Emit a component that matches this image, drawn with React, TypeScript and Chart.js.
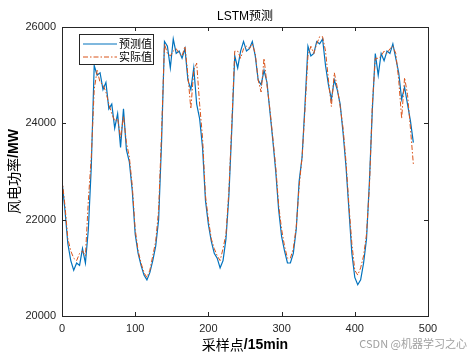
import React, { useEffect, useRef } from "react";
import { Chart, registerables } from "chart.js";
Chart.register(...registerables);

const sampleIdx = [
  0, 4, 8, 12, 16, 20, 24, 28, 32, 36, 40, 44, 48, 52, 56, 60, 64, 68, 72, 76,
  80, 84, 88, 92, 96, 100, 104, 108, 112, 116, 120, 124, 128, 132, 136, 140, 144, 148, 152, 156,
  160, 164, 168, 172, 176, 180, 184, 188, 192, 196, 200, 204, 208, 212, 216, 220, 224, 228, 232, 236,
  240, 244, 248, 252, 256, 260, 264, 268, 272, 276, 280, 284, 288, 292, 296, 300, 304, 308, 312, 316,
  320, 324, 328, 332, 336, 340, 344, 348, 352, 356, 360, 364, 368, 372, 376, 380, 384, 388, 392, 396,
  400, 404, 408, 412, 416, 420, 424, 428, 432, 436, 440, 444, 448, 452, 456, 460, 464, 468, 472, 476, 480,
];

const actual = [
  22850, 22300, 21600, 21350, 21200, 21150, 21300, 21350, 21250, 22400, 23300, 24700, 25100, 24850, 24800, 24650, 24400, 24200, 24050, 24100,
  23700, 24150, 23600, 23300, 22700, 21800, 21350, 21100, 20900, 20800, 20950, 21250, 21550, 22200, 23800, 25650, 25450, 25400, 25500, 25550,
  25450, 25400, 25600, 25000, 24300, 25100, 25250, 24400, 23700, 22500, 22000, 21600, 21400, 21250, 21150, 21400, 21700, 22600, 24000, 25500,
  25500, 25350, 25550, 25600, 25550, 25650, 25450, 24900, 24650, 25350, 24800, 24300, 23700, 23100, 22300, 21800, 21450, 21200, 21200, 21400,
  21850, 22700, 23300, 24300, 25400, 25600, 25450, 25650, 25800, 25800, 25500, 24900, 24350, 25050, 24750, 24350, 23900, 23200, 22300, 21500,
  20950, 20850, 21000, 21250, 21700, 22700, 24400, 25350, 25350, 25400, 25500, 25450, 25550, 25600, 25450, 24900, 24100, 24950, 24600, 23900, 23150,
];

const predicted = [
  22800, 22200, 21500, 21150, 20950, 21100, 21050, 21400, 21100, 21800, 23100, 25200, 25000, 25050, 24700, 24850, 24300, 24400, 23900, 24200,
  23500, 24300, 23450, 23200, 22600, 21700, 21300, 21050, 20850, 20750, 20900, 21150, 21450, 22000, 23600, 25700, 25600, 25150, 25750, 25450,
  25500, 25350, 25550, 24900, 24700, 25150, 24400, 24100, 23500, 22400, 21900, 21550, 21300, 21200, 21000, 21150, 21600, 22500, 23900, 25400,
  25150, 25500, 25700, 25500, 25550, 25700, 25400, 24900, 24800, 25100, 24850, 24250, 23650, 23000, 22200, 21650, 21350, 21100, 21100, 21300,
  21800, 22800, 23300, 24400, 25600, 25400, 25450, 25700, 25650, 25750, 25200, 24800, 24500, 24900, 24700, 24400, 23800, 23100, 22200, 21300,
  20800, 20650, 20750, 21100, 21600, 22800, 24300, 25450, 25000, 25450, 25300, 25500, 25450, 25650, 25350, 25050, 24500, 24750, 24400, 24050, 23600,
];

const xTicks = [0, 100, 200, 300, 400, 500];
const yTicks = [20000, 22000, 24000, 26000];
const seriesNames = ["预测值", "实际值"];
const titleText = "LSTM预测";
const xTitleCn = "采样点";
const xTitleEn = "/15min";
const yTitleCn = "风电功率";
const yTitleEn = "/MW";
const watermark = "CSDN @机器学习之心";

const BLUE = "#0072BD";
const RED = "#D95319";
const AXIS = "#262626";
const SANS = "'Liberation Sans', Arial, 'Noto Sans CJK SC', sans-serif";
const CJK = "'Noto Sans CJK SC', sans-serif";

const decorPlugin = {
  id: "decor",
  afterDatasetsDraw(chart: any) {
    const ctx = chart.ctx as CanvasRenderingContext2D;
    const { left, right, top, bottom } = chart.chartArea;
    const xs = chart.scales.x;
    const ys = chart.scales.y;
    ctx.save();
    // frame
    ctx.strokeStyle = AXIS;
    ctx.lineWidth = 1;
    ctx.strokeRect(Math.round(left) + 0.5, Math.round(top) + 0.5, Math.round(right - left), Math.round(bottom - top));
    const tl = 4;
    ctx.beginPath();
    xTicks.forEach((t) => {
      const px = Math.round(xs.getPixelForValue(t)) + 0.5;
      if (px <= left + 1 || px >= right - 1) return;
      ctx.moveTo(px, bottom);
      ctx.lineTo(px, bottom - tl);
      ctx.moveTo(px, top);
      ctx.lineTo(px, top + tl);
    });
    yTicks.forEach((t) => {
      const py = Math.round(ys.getPixelForValue(t)) + 0.5;
      if (py <= top + 1 || py >= bottom - 1) return;
      ctx.moveTo(left, py);
      ctx.lineTo(left + tl, py);
      ctx.moveTo(right, py);
      ctx.lineTo(right - tl, py);
    });
    ctx.stroke();

    // legend
    const lx = 79.5, ly = 34.5, lw = 74, lh = 30;
    ctx.fillStyle = "#ffffff";
    ctx.fillRect(lx, ly, lw, lh);
    ctx.strokeStyle = AXIS;
    ctx.lineWidth = 1;
    ctx.strokeRect(lx, ly, lw, lh);
    ctx.lineWidth = 1.2;
    ctx.strokeStyle = BLUE;
    ctx.setLineDash([]);
    ctx.beginPath();
    ctx.moveTo(83, 44);
    ctx.lineTo(117, 44);
    ctx.stroke();
    ctx.strokeStyle = RED;
    ctx.lineWidth = 1;
    ctx.setLineDash([5, 2, 1.5, 2]);
    ctx.beginPath();
    ctx.moveTo(83, 57);
    ctx.lineTo(117, 57);
    ctx.stroke();
    ctx.setLineDash([]);
    ctx.fillStyle = "#000";
    ctx.font = `11px ${CJK}`;
    ctx.textAlign = "left";
    ctx.textBaseline = "middle";
    ctx.fillText(seriesNames[0], 119, 44);
    ctx.fillText(seriesNames[1], 119, 57);

    // title
    ctx.fillStyle = "#000";
    ctx.font = `12px ${SANS}`;
    ctx.textAlign = "center";
    ctx.textBaseline = "middle";
    ctx.fillText(titleText, (left + right) / 2, 17);

    // x title
    ctx.font = `14px ${CJK}`;
    const w1 = ctx.measureText(xTitleCn).width;
    ctx.font = `bold 14px ${SANS}`;
    const w2 = ctx.measureText(xTitleEn).width;
    const cx = (left + right) / 2;
    const sx = cx - (w1 + w2) / 2;
    ctx.textAlign = "left";
    ctx.font = `14px ${CJK}`;
    ctx.fillText(xTitleCn, sx, 345);
    ctx.font = `bold 14px ${SANS}`;
    ctx.fillText(xTitleEn, sx + w1, 345);

    // y title
    ctx.save();
    ctx.translate(14, (top + bottom) / 2);
    ctx.rotate(-Math.PI / 2);
    ctx.font = `14px ${CJK}`;
    const h1 = ctx.measureText(yTitleCn).width;
    ctx.font = `bold 14px ${SANS}`;
    const h2 = ctx.measureText(yTitleEn).width;
    const sy = -(h1 + h2) / 2;
    ctx.font = `14px ${CJK}`;
    ctx.fillText(yTitleCn, sy, 0);
    ctx.font = `bold 14px ${SANS}`;
    ctx.fillText(yTitleEn, sy + h1, 0);
    ctx.restore();

    // watermark
    ctx.fillStyle = "#a0a0a0";
    ctx.font = `11px ${CJK}`;
    ctx.textAlign = "right";
    ctx.fillText(watermark, 467, 344);
    ctx.restore();
  },
};

export default function App() {
  const ref = useRef<HTMLCanvasElement | null>(null);
  useEffect(() => {
    if (!ref.current) return;
    const chart = new Chart(ref.current, {
      type: "line",
      data: {
        datasets: [
          {
            label: seriesNames[0],
            data: sampleIdx.map((x, i) => ({ x, y: predicted[i] })),
            borderColor: BLUE,
            borderWidth: 1.2,
            pointRadius: 0,
            tension: 0,
            order: 2,
          },
          {
            label: seriesNames[1],
            data: sampleIdx.map((x, i) => ({ x, y: actual[i] })),
            borderColor: RED,
            borderWidth: 1,
            borderDash: [5, 2, 1.5, 2],
            pointRadius: 0,
            tension: 0,
            order: 1,
          },
        ],
      },
      options: {
        responsive: false,
        animation: false,
        devicePixelRatio: 1,
        layout: { padding: { top: 27, right: 46, left: 0, bottom: 0 } },
        plugins: {
          legend: { display: false },
          title: { display: false },
          tooltip: { enabled: false },
        },
        scales: {
          x: {
            type: "linear",
            min: 0,
            max: 500,
            afterBuildTicks: (s: any) => {
              s.ticks = xTicks.map((v) => ({ value: v }));
            },
            afterFit: (s: any) => {
              s.height = 39;
            },
            grid: { display: false, drawTicks: false },
            border: { display: false },
            ticks: {
              color: "#262626",
              font: { size: 11, family: SANS },
              padding: 6,
              maxRotation: 0,
              autoSkip: false,
              callback: (v: any) => String(v),
            },
          },
          y: {
            type: "linear",
            min: 20000,
            max: 26000,
            afterBuildTicks: (s: any) => {
              s.ticks = yTicks.map((v) => ({ value: v }));
            },
            afterFit: (s: any) => {
              s.width = 62;
            },
            grid: { display: false, drawTicks: false },
            border: { display: false },
            ticks: {
              color: "#262626",
              font: { size: 11, family: SANS },
              padding: 6,
              autoSkip: false,
              callback: (v: any) => String(v),
            },
          },
        },
      },
      plugins: [decorPlugin],
    });
    return () => chart.destroy();
  }, []);
  return (
    <div style={{ position: "absolute", left: 0, top: 0, width: 474, height: 355, background: "#fff" }}>
      <canvas ref={ref} width={474} height={355} style={{ width: 474, height: 355, display: "block" }} />
    </div>
  );
}
